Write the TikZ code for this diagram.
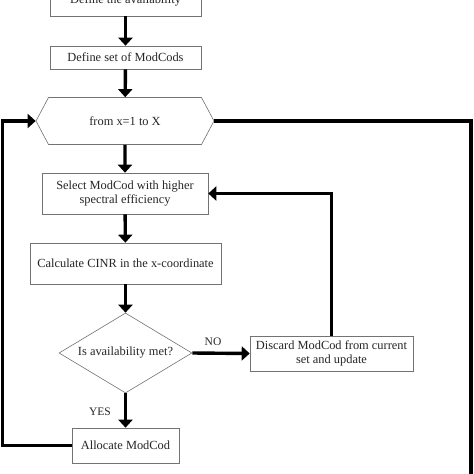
\documentclass[tikz,border=0pt]{standalone}
\usepackage{fontspec}
\setmainfont{Liberation Serif}
\usetikzlibrary{shapes, shapes.geometric, shapes.symbols, arrows.meta, positioning, calc}

\begin{document}
\begin{tikzpicture}[x=1pt, y=-1pt,
    box/.style={draw=black!55, line width=0.6pt, fill=white, align=center,
      inner sep=0pt, text=black!85, font=\fontsize{12.4}{14.5}\selectfont},
    flow/.style={line width=3.4pt, -{Triangle[length=8pt,width=14pt]}},
    link/.style={line width=3.4pt},
    tag/.style={text=black!85, font=\fontsize{11.5}{13}\selectfont}]
	\fill[white] (0,0) rectangle (474,474);
	\useasboundingbox (0,0) rectangle (474,474);
	% main column
	\node[box, minimum width=151pt, minimum height=32pt] (avail) at (125.5,0) {Define the availability};
	\node[box, minimum width=151pt, minimum height=23pt] (sets) at (125.5,57.5) {Define set of ModCods};
	\node[box, signal, signal to=west and east, signal pointer angle=124,
	      minimum width=178pt, minimum height=47pt] (loop) at (125,121) {from x=1 to X};
	\node[box, minimum width=166pt, minimum height=41pt] (sel) at (125,193.5) {Select ModCod with higher\\spectral efficiency};
	\node[box, minimum width=191pt, minimum height=41pt] (cinr) at (125.5,263.5) {Calculate CINR in the x-coordinate};
	\node[box, diamond, aspect=1.66, minimum width=133pt, minimum height=80pt] (check) at (125.5,353) {Is availability met?};
	\node[box, minimum width=163pt, minimum height=35pt] (discard) at (331.5,353.5) {Discard ModCod from current\\set and update};
	\node[box, minimum width=107pt, minimum height=35pt] (alloc) at (125.5,445.5) {Allocate ModCod};
	% rails
	\coordinate (leftrail) at (2.5,0);
	\coordinate (rightrail) at (471,490);
	% arrows
	\draw[flow] (avail) -- (sets);
	\draw[flow] (sets) -- (loop);
	\draw[flow] (loop) -- (sel);
	\draw[flow] (sel) -- (cinr);
	\draw[flow] (cinr) -- (check);
	\draw[flow] (check.east) -- (discard.west);
	\draw[flow] (check.south) -- (alloc.north);
	\draw[flow] (discard.north) |- (sel.east);
	\draw[flow] (alloc.west) -- (alloc.west -| leftrail) |- (loop.west);
	\draw[link] (loop.east) -| (rightrail);
	% labels
	\node[tag] (no) at (213,342) {NO};
	\node[tag] (yes) at (100,412) {YES};
\end{tikzpicture}
\end{document}
